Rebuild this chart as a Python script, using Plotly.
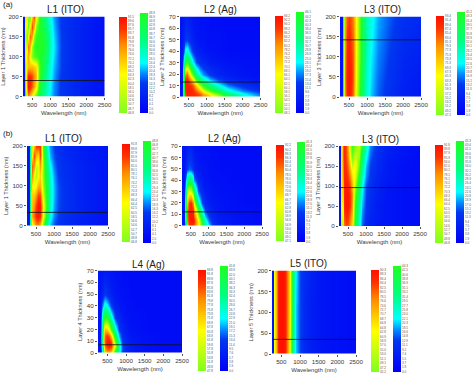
import plotly.graph_objects as go

W, H = 474, 375

wavelength = [250, 295, 305, 350, 400, 450, 500, 550, 600, 700, 800, 900, 1000, 1100, 1300, 1600, 2000, 2500]
ito_thick = [0, 25, 50, 75, 100, 125, 150, 175, 200]
ag_thick = [0, 3, 6, 10, 15, 20, 30, 40, 50, 70]
coarse_thick = [0, 50, 100, 150, 200]
l5_thick = [0, 100, 200]

a_l1 = [
    [5, 5, 45, 66, 78, 72, 64, 56, 50, 40, 33, 27, 22, 18, 13, 10, 7, 4],
    [5, 5, 50, 80, 91, 88, 82, 74, 66, 46, 35, 28, 23, 18, 13, 10, 7, 4],
    [5, 5, 52, 80, 88, 88, 84, 78, 72, 50, 37, 30, 24, 19, 13, 10, 7, 4],
    [5, 5, 54, 68, 72, 72, 72, 70, 68, 50, 40, 32, 25, 20, 14, 10, 7, 4],
    [5, 5, 60, 70, 74, 62, 54, 50, 48, 46, 42, 35, 27, 21, 14, 10, 7, 4],
    [5, 5, 62, 58, 80, 72, 56, 48, 46, 46, 44, 37, 28, 22, 14, 10, 7, 4],
    [5, 5, 60, 52, 62, 82, 74, 54, 47, 46, 43, 36, 28, 21, 14, 10, 7, 4],
    [5, 5, 64, 60, 52, 66, 84, 72, 54, 46, 40, 33, 26, 20, 13, 10, 7, 4],
    [5, 5, 68, 68, 54, 52, 70, 84, 66, 48, 37, 30, 24, 19, 13, 10, 7, 4],
]
a_l2 = [
    [5, 5, 8, 40, 84, 90, 90, 90, 90, 90, 88, 84, 80, 76, 66, 48, 30, 20],
    [5, 5, 8, 42, 86, 92, 92, 91, 90, 88, 84, 76, 70, 64, 52, 36, 24, 16],
    [5, 5, 8, 44, 88, 93, 92, 91, 89, 84, 74, 64, 56, 50, 38, 26, 18, 12],
    [5, 5, 8, 46, 90, 92, 91, 89, 85, 72, 58, 48, 41, 35, 26, 18, 12, 8],
    [5, 5, 8, 46, 88, 90, 84, 76, 68, 50, 38, 30, 25, 21, 15, 10, 7, 5],
    [5, 5, 8, 44, 80, 84, 72, 60, 50, 34, 24, 19, 16, 13, 9, 7, 5, 4],
    [5, 5, 8, 32, 46, 50, 40, 30, 24, 16, 12, 10, 9, 7, 6, 5, 4, 4],
    [5, 5, 7, 18, 26, 28, 22, 17, 13, 9, 7, 6, 5, 5, 4, 3, 3, 3],
    [5, 5, 6, 10, 13, 14, 12, 10, 8, 6, 5, 5, 4, 4, 4, 3, 3, 3],
    [5, 5, 5, 7, 8, 8, 7, 6, 5, 5, 4, 4, 4, 3, 3, 3, 3, 3],
]
a_l3 = [
    [5, 5, 5, 60, 80, 90, 92, 88, 82, 62, 46, 34, 26, 21, 16, 12, 8, 6],
    [5, 5, 5, 62, 82, 91, 92, 90, 84, 64, 48, 36, 27, 22, 17, 13, 9, 7],
    [5, 5, 5, 62, 80, 90, 91, 88, 84, 64, 50, 38, 28, 23, 18, 14, 10, 8],
    [5, 5, 5, 60, 78, 88, 90, 86, 82, 66, 50, 38, 29, 24, 19, 15, 11, 9],
    [5, 5, 5, 58, 76, 84, 86, 84, 80, 66, 50, 38, 29, 25, 20, 16, 12, 10],
]
b_l1 = [
    [5, 5, 5, 50, 60, 70, 78, 78, 72, 50, 30, 20, 15, 12, 10, 8, 6, 4],
    [5, 5, 5, 60, 75, 82, 88, 90, 88, 64, 38, 25, 18, 14, 11, 9, 7, 5],
    [5, 5, 5, 60, 72, 78, 86, 91, 90, 66, 42, 27, 19, 15, 12, 9, 7, 5],
    [5, 5, 5, 62, 70, 72, 78, 86, 84, 60, 42, 28, 20, 15, 12, 9, 7, 5],
    [5, 5, 5, 72, 66, 62, 66, 74, 74, 56, 40, 28, 20, 15, 12, 9, 7, 5],
    [5, 5, 5, 70, 78, 62, 58, 64, 70, 54, 38, 26, 19, 14, 11, 9, 7, 5],
    [5, 5, 5, 60, 82, 76, 60, 62, 76, 54, 34, 24, 17, 13, 11, 9, 7, 5],
    [5, 5, 5, 56, 66, 84, 72, 68, 84, 52, 30, 20, 15, 12, 10, 8, 6, 5],
    [5, 5, 5, 60, 58, 72, 86, 86, 86, 48, 26, 18, 14, 11, 9, 8, 6, 5],
]
b_l2 = [
    [5, 5, 7, 30, 70, 86, 88, 86, 82, 66, 46, 32, 22, 14, 8, 6, 4, 3],
    [5, 5, 7, 36, 78, 88, 90, 90, 86, 68, 44, 28, 18, 12, 7, 5, 4, 3],
    [5, 5, 7, 40, 80, 90, 92, 91, 86, 64, 40, 24, 15, 10, 7, 5, 4, 3],
    [5, 5, 7, 42, 82, 90, 91, 90, 80, 54, 30, 18, 12, 9, 6, 5, 4, 3],
    [5, 5, 7, 42, 78, 87, 89, 84, 72, 44, 22, 13, 9, 7, 5, 4, 4, 3],
    [5, 5, 7, 40, 72, 86, 88, 78, 60, 30, 15, 10, 7, 6, 5, 4, 3, 3],
    [5, 5, 6, 34, 56, 62, 60, 48, 36, 16, 10, 7, 6, 5, 4, 4, 3, 3],
    [5, 5, 6, 22, 34, 38, 36, 28, 18, 10, 7, 5, 5, 4, 4, 3, 3, 3],
    [5, 5, 5, 10, 14, 16, 15, 12, 9, 6, 5, 5, 4, 4, 3, 3, 3, 3],
    [5, 5, 5, 6, 7, 8, 8, 6, 5, 5, 4, 4, 4, 3, 3, 3, 3, 3],
]
b_l3 = [
    [5, 5, 60, 58, 80, 84, 82, 76, 68, 40, 26, 16, 11, 8, 6, 5, 4, 3],
    [5, 5, 62, 62, 84, 88, 86, 80, 72, 44, 28, 18, 12, 9, 7, 5, 4, 3],
    [5, 5, 64, 66, 88, 91, 90, 86, 76, 46, 30, 20, 13, 10, 7, 5, 4, 3],
    [5, 5, 66, 70, 89, 91, 90, 86, 78, 50, 34, 22, 14, 11, 8, 5, 4, 3],
    [5, 5, 66, 74, 88, 90, 88, 84, 74, 56, 38, 24, 15, 12, 8, 5, 4, 3],
    [5, 5, 64, 78, 88, 88, 84, 78, 68, 62, 44, 28, 18, 13, 9, 6, 4, 3],
    [5, 5, 62, 80, 88, 86, 80, 70, 60, 66, 50, 32, 20, 14, 10, 6, 4, 3],
    [5, 5, 60, 82, 88, 84, 76, 62, 52, 60, 56, 36, 24, 16, 11, 7, 5, 3],
    [5, 5, 58, 82, 88, 84, 74, 58, 48, 54, 60, 44, 28, 18, 12, 8, 5, 4],
]
b_l4 = [
    [5, 5, 5, 20, 50, 64, 70, 70, 66, 42, 24, 15, 10, 7, 5, 4, 3, 3],
    [5, 5, 5, 26, 64, 78, 84, 84, 80, 52, 28, 16, 10, 7, 5, 4, 3, 3],
    [5, 5, 5, 32, 72, 84, 90, 92, 90, 62, 30, 16, 10, 7, 5, 4, 3, 3],
    [5, 5, 5, 34, 76, 86, 92, 92, 86, 52, 26, 14, 9, 7, 5, 4, 3, 3],
    [5, 5, 5, 34, 74, 84, 88, 84, 72, 40, 20, 11, 8, 6, 5, 4, 3, 3],
    [5, 5, 5, 32, 68, 74, 72, 64, 50, 28, 14, 9, 7, 5, 4, 3, 3, 3],
    [5, 5, 5, 28, 44, 48, 46, 38, 28, 14, 9, 7, 5, 4, 4, 3, 3, 3],
    [5, 5, 5, 17, 25, 27, 24, 19, 14, 8, 6, 5, 4, 4, 3, 3, 3, 3],
    [5, 5, 5, 9, 13, 14, 12, 10, 8, 6, 5, 4, 4, 3, 3, 3, 3, 3],
    [5, 5, 5, 5, 6, 6, 6, 5, 5, 4, 4, 3, 3, 3, 3, 3, 3, 3],
]
b_l5 = [
    [5, 5, 62, 72, 86, 90, 90, 90, 88, 68, 30, 20, 14, 10, 7, 5, 4, 3],
    [5, 5, 62, 72, 86, 90, 90, 90, 88, 70, 32, 20, 14, 10, 7, 5, 4, 3],
    [5, 5, 62, 72, 86, 90, 90, 90, 88, 70, 34, 22, 14, 11, 8, 5, 4, 3],
]

titles = ["L1 (ITO)", "L2 (Ag)", "L3 (ITO)", "L1 (ITO)", "L2 (Ag)", "L3 (ITO)", "L4 (Ag)", "L5 (ITO)"]
y_labels = ["Layer 1 Thickness (nm)", "Layer 2 Thickness (nm)", "Layer 3 Thickness (nm)",
            "Layer 1 Thickness (nm)", "Layer 2 Thickness (nm)", "Layer 3 Thickness (nm)",
            "Layer 4 Thickness (nm)", "Layer 5 Thickness (nm)"]
surfaces = [a_l1, a_l2, a_l3, b_l1, b_l2, b_l3, b_l4, b_l5]
thicknesses = [ito_thick, ag_thick, coarse_thick, ito_thick, ag_thick, ito_thick, ag_thick, l5_thick]
y_max = [200, 70, 200, 200, 70, 200, 70, 200]
optimum = [40, 13, 142, 33, 12, 96, 7, 35]
high_top = [91.5, 94.2, 93.4, 91.8, 92.2, 91.8, 93.8, 90.3]
high_bottom = [46.8, 48.1, 47.2, 46.8, 47.1, 46.8, 47.8, 45.2]
low_top = [48.9, 46.1, 45.2, 48.8, 45.3, 45.3, 45.8, 44.3]

# layout, in pixels: plot left, right, top, bottom
boxes = [(23, 104.5, 16.5, 96.5), (180, 260.5, 16.5, 97), (340, 421, 16.5, 97),
         (27, 108, 146, 225.5), (182, 262, 146, 225.5), (339, 420, 146, 226),
         (98, 182, 270.5, 353), (272, 356, 270.5, 354)]
high_bars = [(119, 16.7, 112.7), (275.7, 16, 113.3), (436, 16, 115), (122.3, 144.3, 242.7),
             (276.7, 145.3, 241.3), (435, 144.7, 243), (198.7, 270, 371), (371.7, 270, 371.7)]
low_bars = [(140, 12.7, 112.7), (296.7, 12.3, 113.7), (457.3, 12, 115), (143.7, 140.7, 242.7),
            (297.3, 141.7, 241.3), (456, 140.7, 243), (220.3, 265.7, 371), (393.7, 265.7, 371.7)]
title_pos = [(65, 9), (220, 9), (382, 10), (64, 138), (224, 138), (380, 139), (148, 264), (308, 263)]

low_scale = [[0, "#0000f8"], [0.3, "#0038f0"], [0.4, "#0090ff"], [0.5, "#00ffff"], [0.72, "#00ff80"], [1, "#20ff20"]]
high_scale = [[0, "#80ff20"], [0.4, "#ffff00"], [0.7, "#ff9000"], [0.88, "#ff3000"], [1, "#ff1000"]]
full_scale = [[p / 2, c] for p, c in low_scale] + [[0.5 + p / 2, c] for p, c in high_scale][1:]

TXT = "#3a3a3a"
FONT = "Liberation Sans, Arial, sans-serif"
fig = go.Figure()
layout = dict(
    width=W, height=H, margin=dict(l=0, r=0, t=0, b=0, autoexpand=False),
    paper_bgcolor="white", plot_bgcolor="white", showlegend=False,
    font=dict(family=FONT, color=TXT),
)
notes = []


def colorbar(px, top, bottom, lo, hi, n):
    return dict(
        x=(px - 0.5) / W, xanchor="left", xpad=0, y=1 - top / H, yanchor="top", ypad=0,
        len=bottom - top, lenmode="pixels", thickness=7.5, thicknessmode="pixels",
        outlinewidth=0, ticks="", tickmode="linear", tick0=lo, dtick=(hi - lo) / n,
        tickformat=".1f", tickfont=dict(size=3, color="#555555", family=FONT), ticklabelposition="outside",
    )


for i in range(8):
    s = "" if i == 0 else str(i + 1)
    xa, ya = "x" + s, "y" + s
    l, r, t, b = boxes[i]
    fig.add_trace(go.Heatmap(
        x=wavelength, y=thicknesses[i], z=surfaces[i], xaxis=xa, yaxis=ya,
        zmin=0, zmax=high_top[i], colorscale=full_scale, zsmooth="best", showscale=False,
    ))
    fig.add_trace(go.Scatter(
        x=[250, 2500], y=[optimum[i], optimum[i]], xaxis=xa, yaxis=ya, mode="lines",
        line=dict(color="#101010", width=0.8),
    ))
    hb = high_bars[i]
    fig.add_trace(go.Scatter(
        x=[1000], y=[optimum[i]], xaxis=xa, yaxis=ya, mode="markers", opacity=0,
        marker=dict(size=1, color=[high_top[i]], cmin=high_bottom[i], cmax=high_top[i], colorscale=high_scale,
                    showscale=True, colorbar=colorbar(hb[0], hb[1], hb[2], high_bottom[i], high_top[i], 23)),
    ))
    lb = low_bars[i]
    fig.add_trace(go.Scatter(
        x=[1000], y=[optimum[i]], xaxis=xa, yaxis=ya, mode="markers", opacity=0,
        marker=dict(size=1, color=[low_top[i]], cmin=0, cmax=low_top[i], colorscale=low_scale,
                    showscale=True, colorbar=colorbar(lb[0], lb[1], lb[2], 0, low_top[i], 24)),
    ))
    axis_common = dict(ticks="outside", ticklen=2, tickwidth=0.6, tickcolor="#555555", showgrid=False,
                       zeroline=False, showline=False, tickfont=dict(size=6.2, color=TXT))
    layout["xaxis" + s] = dict(
        domain=[l / W, r / W], anchor=ya, range=[250, 2500], tickvals=[500, 1000, 1500, 2000, 2500],
        title=dict(text="Wavelength (nm)", font=dict(size=6, color=TXT), standoff=3), **axis_common)
    layout["yaxis" + s] = dict(
        domain=[1 - b / H, 1 - t / H], anchor=xa, range=[0, y_max[i]], dtick=10 if y_max[i] == 70 else 50,
        title=dict(text=y_labels[i], font=dict(size=5.6, color=TXT), standoff=3), **axis_common)
    notes.append(dict(text=titles[i], x=title_pos[i][0] / W, y=1 - title_pos[i][1] / H, xref="paper", yref="paper",
                      xanchor="center", yanchor="middle", showarrow=False, font=dict(size=10, color="#222222")))

notes.append(dict(text="(a)", x=0.5 / W, y=1 - 4 / H, xref="paper", yref="paper", xanchor="left", yanchor="middle",
                  showarrow=False, font=dict(size=8, color="#222222")))
notes.append(dict(text="(b)", x=0.5 / W, y=1 - 134 / H, xref="paper", yref="paper", xanchor="left", yanchor="middle",
                  showarrow=False, font=dict(size=8, color="#222222")))
layout["annotations"] = notes
fig.update_layout(**layout)
fig.write_html("out.html", config=dict(displayModeBar=False),
               post_script="document.body.style.margin='0';document.body.style.overflow='hidden';")
